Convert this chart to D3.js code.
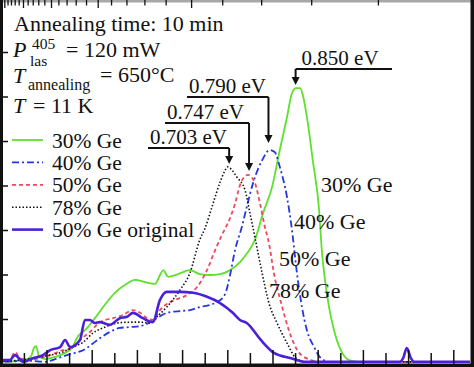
<!DOCTYPE html>
<html><head><meta charset="utf-8">
<script src="https://cdn.jsdelivr.net/npm/d3@7/dist/d3.min.js"></script>
<style>html,body{margin:0;padding:0;background:#fff}svg{display:block}text{font-family:"Liberation Serif","Times New Roman",Times,serif}</style>
</head><body><div id="chart"></div>
<script>
// ---- data (photon energy in eV, PL intensity in arb. units) ----
const ge30 = [[0.207,0.05],[0.251,0.09],[0.265,0.18],[0.271,0.36],[0.276,0.40],[0.282,0.18],[0.296,0.11],[0.318,0.16],[0.340,0.25],[0.355,0.36],[0.369,0.63],[0.384,0.76],[0.406,1.03],[0.428,1.33],[0.450,1.60],[0.473,1.78],[0.495,1.89],[0.517,1.84],[0.539,1.80],[0.550,2.00],[0.557,2.11],[0.568,1.96],[0.590,2.02],[0.616,2.11],[0.638,2.02],[0.661,2.00],[0.683,2.02],[0.705,2.11],[0.727,2.29],[0.745,2.52],[0.760,2.79],[0.778,3.39],[0.798,3.98],[0.815,4.81],[0.831,5.55],[0.842,6.09],[0.851,6.20],[0.860,6.20],[0.866,6.04],[0.877,5.42],[0.888,4.58],[0.902,3.46],[0.908,2.56],[0.915,1.89],[0.924,1.28],[0.935,0.76],[0.950,0.31],[0.968,0.09],[0.992,0.05],[1.245,0.05]];
const ge40 = [[0.207,0.05],[0.262,0.07],[0.296,0.05],[0.318,0.11],[0.344,0.20],[0.362,0.25],[0.380,0.31],[0.400,0.45],[0.417,0.58],[0.439,0.72],[0.461,0.81],[0.484,0.83],[0.506,0.85],[0.528,0.94],[0.543,1.03],[0.565,1.15],[0.594,1.19],[0.616,1.21],[0.638,1.28],[0.661,1.33],[0.676,1.39],[0.694,1.57],[0.705,2.00],[0.716,2.56],[0.731,3.08],[0.742,3.53],[0.756,4.07],[0.776,4.58],[0.793,4.81],[0.804,4.76],[0.815,4.43],[0.831,3.75],[0.842,3.01],[0.853,2.04],[0.864,1.28],[0.875,0.76],[0.891,0.38],[0.906,0.13],[0.926,0.05],[1.245,0.05]];
const ge50 = [[0.196,0.05],[0.218,0.09],[0.229,0.27],[0.240,0.13],[0.262,0.09],[0.284,0.13],[0.307,0.20],[0.335,0.31],[0.355,0.36],[0.373,0.54],[0.395,0.72],[0.417,0.94],[0.446,1.03],[0.468,1.10],[0.490,1.21],[0.506,1.15],[0.521,1.03],[0.534,0.99],[0.550,1.21],[0.565,1.35],[0.583,1.44],[0.610,1.55],[0.632,1.73],[0.654,2.11],[0.672,2.56],[0.687,2.90],[0.705,3.28],[0.716,3.60],[0.727,4.02],[0.736,4.20],[0.745,4.25],[0.754,4.18],[0.760,4.07],[0.771,3.62],[0.782,3.08],[0.791,2.72],[0.802,2.04],[0.818,1.37],[0.835,0.76],[0.858,0.25],[0.884,0.09],[0.904,0.05],[1.245,0.05]];
const ge78 = [[0.196,0.05],[0.240,0.09],[0.269,0.13],[0.307,0.20],[0.335,0.27],[0.358,0.38],[0.380,0.49],[0.402,0.70],[0.424,0.81],[0.455,0.92],[0.484,0.94],[0.506,0.94],[0.528,0.92],[0.543,1.06],[0.565,1.28],[0.594,1.66],[0.616,2.04],[0.638,2.79],[0.650,3.06],[0.665,3.53],[0.683,4.09],[0.692,4.31],[0.700,4.43],[0.709,4.36],[0.720,4.20],[0.738,3.91],[0.749,3.39],[0.760,2.85],[0.776,2.04],[0.791,1.37],[0.809,0.92],[0.831,0.47],[0.851,0.13],[0.871,0.05],[1.245,0.05]];
const ge50orig = [[0.196,0.09],[0.218,0.09],[0.229,0.20],[0.247,0.05],[0.269,0.13],[0.291,0.20],[0.307,0.31],[0.329,0.38],[0.340,0.54],[0.351,0.38],[0.373,0.54],[0.384,0.99],[0.395,0.99],[0.406,0.92],[0.417,0.94],[0.439,0.88],[0.461,1.03],[0.477,1.06],[0.490,1.15],[0.512,1.03],[0.534,0.94],[0.550,1.44],[0.565,1.62],[0.594,1.62],[0.623,1.60],[0.654,1.51],[0.683,1.37],[0.711,1.15],[0.727,0.99],[0.742,0.92],[0.773,0.54],[0.802,0.25],[0.840,0.13],[0.869,0.05],[1.081,0.05],[1.088,0.13],[1.096,0.36],[1.105,0.13],[1.112,0.05],[1.245,0.05]];

const seriesNames = ["30% Ge","40% Ge","50% Ge","78% Ge","50% Ge original"];
const peakEnergies = [0.703, 0.747, 0.790, 0.850];
const peakLabels = ["0.703 eV","0.747 eV","0.790 eV","0.850 eV"];
const energyTicks = d3.range(0.20, 1.2501, 0.05);
const wavelengthTicks = d3.range(1200, 10001, 200);
const intensityTicks = [1,2,3,4,5,6,7];

// ---- layout / style ----
const W = 474, H = 367;
const svg = d3.select("#chart").append("svg").attr("width", W).attr("height", H);
const x = d3.scaleLinear().domain([0.196, 1.2447]).range([0, 474]);
const y = d3.scaleLinear().domain([0, 8]).range([364, 8]);

const styles = [
  {color:"#5ee02c", width:1.8, dash:null},
  {color:"#2438e0", width:1.8, dash:"7,3,2,3"},
  {color:"#ee4a5c", width:1.8, dash:"4,3"},
  {color:"#111111", width:1.6, dash:"1.5,2"},
  {color:"#4a20dc", width:2.6, dash:null}
];
const allSeries = [ge30, ge40, ge50, ge78, ge50orig];

svg.append("clipPath").attr("id","clip").append("rect").attr("x",3).attr("y",3).attr("width",467).attr("height",360);

const line = d3.line().x(d => x(d[0])).y(d => y(d[1])).curve(d3.curveMonotoneX);
const g = svg.append("g").attr("clip-path","url(#clip)");
allSeries.forEach((s, i) => {
  g.append("path").datum(s).attr("d", line)
    .attr("fill","none").attr("stroke", styles[i].color)
    .attr("stroke-width", styles[i].width)
    .attr("stroke-dasharray", styles[i].dash)
    .attr("stroke-linejoin","round");
});

// ---- frame & axes ----
const e2px = lam => x(1239.84 / lam);
svg.append("rect").attr("x",0).attr("y",0).attr("width",W).attr("height",2.5).attr("fill","#a8a8a8");
wavelengthTicks.forEach(l => {
  const px = e2px(l);
  if (px < 2 || px > 470) return;
  const major = l % 1000 === 0;
  svg.append("line").attr("x1",px).attr("x2",px).attr("y1",0).attr("y2", major ? 8 : 5.5)
    .attr("stroke","#111").attr("stroke-width",1.3);
});
svg.append("rect").attr("x",0).attr("y",363.5).attr("width",W).attr("height",3.5).attr("fill","#111");
energyTicks.forEach(e => {
  const px = x(e);
  if (px < 3 || px > 470) return;
  const major = Math.abs(Math.round(e*10) - e*10) < 1e-6;
  svg.append("line").attr("x1",px).attr("x2",px).attr("y1",364).attr("y2", major ? 350 : 353)
    .attr("stroke","#111").attr("stroke-width",1.5);
});
svg.append("rect").attr("x",0).attr("y",0).attr("width",3).attr("height",H).attr("fill","#111");
intensityTicks.forEach(v => {
  svg.append("line").attr("x1",0).attr("x2",8).attr("y1",y(v)).attr("y2",y(v))
    .attr("stroke","#111").attr("stroke-width",1.5);
});
svg.append("rect").attr("x",470.5).attr("y",0).attr("width",3.5).attr("height",H).attr("fill","#111");

// ---- text helper ----
const txt = (s, px, py, size, opts={}) => svg.append("text").attr("x",px).attr("y",py)
  .style("font-family",'"Liberation Serif","Times New Roman",Times,serif').attr("font-size",size)
  .attr("font-style", opts.italic ? "italic" : "normal").attr("fill","#111").text(s);

// header
txt("Annealing time: 10 min", 14, 31, 22);
txt("P", 13, 57, 22, {italic:true});
txt("405", 32, 49, 15.5);
txt("las", 30, 66, 15.5);
txt("= 120 mW", 66, 57, 22);
txt("T", 13, 83, 22, {italic:true});
txt("annealing", 28, 90, 16);
txt("= 650°C", 100, 82, 22);
txt("T", 13, 113, 22, {italic:true});
txt("= 11 K", 33, 113, 22);

// legend
seriesNames.forEach((n, i) => {
  const ly = 140 + i * 22.4;
  svg.append("line").attr("x1",12).attr("x2",43).attr("y1",ly).attr("y2",ly)
    .attr("stroke",styles[i].color).attr("stroke-width",styles[i].width)
    .attr("stroke-dasharray",styles[i].dash);
  txt(n, 52, ly + 7.5, 21.5);
});

// curve labels
const curveLabelPos = [[321,192],[294,229],[279,266],[269,298]];
["30% Ge","40% Ge","50% Ge","78% Ge"].forEach((n,i) => txt(n, curveLabelPos[i][0], curveLabelPos[i][1], 22));

// peak annotations
const annLayout = [ {lineY:148, left:148, tip:164}, {lineY:123, left:165, tip:171}, {lineY:97, left:187, tip:143}, {lineY:69, left:392, tip:85} ];
peakEnergies.forEach((e, i) => {
  const px = x(e), L = annLayout[i];
  const x1 = Math.min(px, L.left), x2 = Math.max(px, L.left);
  svg.append("line").attr("x1",x1).attr("x2",x2).attr("y1",L.lineY).attr("y2",L.lineY).attr("stroke","#111").attr("stroke-width",2);
  svg.append("line").attr("x1",px).attr("x2",px).attr("y1",L.lineY).attr("y2",L.tip-6).attr("stroke","#111").attr("stroke-width",2);
  svg.append("path").attr("d",`M${px-4},${L.tip-8}L${px+4},${L.tip-8}L${px},${L.tip}Z`).attr("fill","#111");
  const tx = i === 3 ? px + 6 : L.left + 2;
  txt(peakLabels[i], tx, L.lineY - 4, 21);
});
</script></body></html>
